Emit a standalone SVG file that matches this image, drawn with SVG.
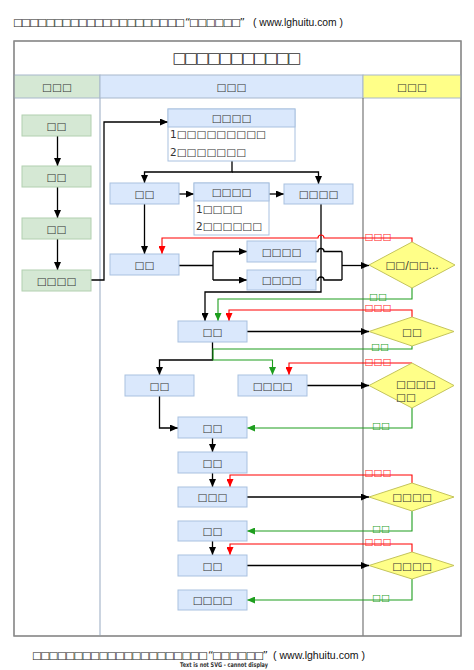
<svg xmlns="http://www.w3.org/2000/svg" width="474" height="670" viewBox="0 0 474 670">
<defs>
<style>
text{font-family:"DejaVu Sans","Liberation Sans",sans-serif;fill:#333;}
.t{font-size:10.5px;text-anchor:middle;dominant-baseline:central;}
.tl{font-size:10.5px;dominant-baseline:central;}
.hd{font-size:10.6px;fill:#222;}
.lat{font-family:"Liberation Sans",Arial,sans-serif;font-size:10.5px;fill:#111;}
.node{fill:#dae8fc;stroke:#a9c1e0;stroke-width:1;}
.white{fill:#ffffff;stroke:#a9c1e0;stroke-width:1;}
.gnode{fill:#d5e8d4;stroke:#b2d0b0;stroke-width:1;}
.dia{fill:#ffff88;stroke:#c4c45c;stroke-width:1;}
.k{fill:none;stroke:#000;stroke-width:1.3;}
.kr{fill:none;stroke:#000;stroke-width:1.3;marker-end:url(#ak);}
.rr{fill:none;stroke:#ff0000;stroke-width:1.1;marker-end:url(#ar);}
.gr{fill:none;stroke:#1e9e1e;stroke-width:1.1;marker-end:url(#ag);}
.lr{font-size:9.5px;fill:#ff2020;text-anchor:middle;dominant-baseline:central;}
.lg{font-size:9.5px;fill:#1e9e1e;text-anchor:middle;dominant-baseline:central;}
</style>
<marker id="ak" viewBox="0 0 8 7" refX="8" refY="3.5" markerWidth="8" markerHeight="7" markerUnits="userSpaceOnUse" orient="auto"><path d="M0,0 L8,3.5 L0,7 z" fill="#000"/></marker>
<marker id="ar" viewBox="0 0 8 7" refX="8" refY="3.5" markerWidth="8" markerHeight="7" markerUnits="userSpaceOnUse" orient="auto"><path d="M0,0 L8,3.5 L0,7 z" fill="#ff0000"/></marker>
<marker id="ag" viewBox="0 0 8 7" refX="8" refY="3.5" markerWidth="8" markerHeight="7" markerUnits="userSpaceOnUse" orient="auto"><path d="M0,0 L8,3.5 L0,7 z" fill="#1e9e1e"/></marker>
</defs>
<rect width="474" height="670" fill="#ffffff"/>

<g id="header-text">
<text class="hd" x="13" y="26" textLength="172" lengthAdjust="spacing">□□□□□□□□□□□□□□□□□□□□□</text>
<text class="hd" x="185" y="26" textLength="60" lengthAdjust="spacing">“□□□□□□”</text>
<text class="lat" x="253" y="26" textLength="90" lengthAdjust="spacingAndGlyphs">( www.lghuitu.com )</text>
</g>

<g id="pool">
<rect x="14" y="41" width="447" height="595" fill="#ffffff" stroke="#8a8a8a" stroke-width="1.2"/>
<text x="237" y="63" font-size="15" text-anchor="middle" textLength="129" lengthAdjust="spacing">□□□□□□□□□□□</text>
<rect x="14" y="75" width="86" height="23" fill="#d5e8d4" stroke="#a8b8cc" stroke-width="1"/>
<rect x="100" y="75" width="263" height="23" fill="#dae8fc" stroke="#a8b8cc" stroke-width="1"/>
<rect x="363" y="75" width="98" height="23" fill="#ffff88" stroke="#a8b8cc" stroke-width="1"/>
<text class="t" x="57" y="86.5">□□□</text>
<text class="t" x="231.5" y="86.5">□□□</text>
<text class="t" x="412" y="86.5">□□□</text>
<line x1="100" y1="98" x2="100" y2="636" stroke="#a8b8cc" stroke-width="1.2"/>
<line x1="363" y1="98" x2="363" y2="636" stroke="#777" stroke-width="1.2"/>
<rect x="14" y="41" width="447" height="595" fill="none" stroke="#8a8a8a" stroke-width="1.2"/>
</g>

<g id="connectors">
<path class="kr" d="M57.5,136 V166"/>
<path class="kr" d="M57.5,187 V218"/>
<path class="kr" d="M57.5,239 V270"/>
<path class="kr" d="M91,280 H104 V122 H168"/>
<path class="kr" d="M232,161 V172 H144.5 V183"/>
<path class="kr" d="M232,172 H318.5 V184"/>
<path class="kr" d="M179,194 H194"/>
<path class="kr" d="M269,194 H284"/>
<path class="kr" d="M144.5,204 V254"/>
<path class="k" d="M179,265.5 H213"/>
<path class="k" d="M213,251.5 V280"/>
<path class="kr" d="M213,251.5 H247"/>
<path class="kr" d="M213,280 H247"/>
<path class="kr" d="M321,204 V292 H205 V321"/>
<path class="k" d="M316,251.5 H318 a3,3 0 0 1 6,0 H342"/>
<path class="k" d="M316,280 H318 a3,3 0 0 1 6,0 H342"/>
<path class="k" d="M342,251.5 V280"/>
<path class="kr" d="M342,265.5 H369"/>
<path class="rr" d="M412,242 V238 H324 a3,3 0 0 0 -6,0 H162 V254"/>
<path class="gr" d="M412,288 V299 H218 V321"/>
<path class="rr" d="M412,317 V310 H229 V321"/>
<path class="kr" d="M247,331.5 H369"/>
<path class="kr" d="M212.5,342 V360 H159.5 V375"/>
<path class="gr" d="M412,346 V349 H213 V360 H272.5 V375"/>
<path class="rr" d="M412,363 H289 V375"/>
<path class="kr" d="M307,385.5 H369"/>
<path class="kr" d="M159.5,396 V428 H178"/>
<path class="gr" d="M412,408 V428 H247"/>
<path class="kr" d="M212.5,438 V452"/>
<path class="kr" d="M212.5,473 V487"/>
<path class="rr" d="M412,483 V475 H230 V487"/>
<path class="kr" d="M247,497 H369"/>
<path class="gr" d="M412,511 V531 H247"/>
<path class="kr" d="M212.5,541 V555"/>
<path class="rr" d="M412,552 V544 H230 V555"/>
<path class="kr" d="M247,565.5 H369"/>
<path class="gr" d="M412,579 V600 H247"/>
<text class="lr" x="378" y="236">□□□</text>
<text class="lg" x="378" y="296.5">□□</text>
<text class="lr" x="378" y="307.5">□□□</text>
<text class="lg" x="380" y="346.5">□□</text>
<text class="lr" x="378" y="361">□□□</text>
<text class="lg" x="381" y="425.5">□□</text>
<text class="lr" x="378" y="472.5">□□□</text>
<text class="lg" x="381" y="528.5">□□</text>
<text class="lr" x="378" y="541.5">□□□</text>
<text class="lg" x="381" y="597.5">□□</text>
</g>

<g id="g1"><rect class="gnode" x="22" y="115" width="69" height="21"/><text class="t" x="56.5" y="125.5">□□</text></g>
<g id="g2"><rect class="gnode" x="22" y="166" width="69" height="21"/><text class="t" x="56.5" y="176.5">□□</text></g>
<g id="g3"><rect class="gnode" x="22" y="218" width="69" height="21"/><text class="t" x="56.5" y="228.5">□□</text></g>
<g id="g4"><rect class="gnode" x="22" y="270" width="69" height="21"/><text class="t" x="56.5" y="280.5">□□□□</text></g>

<g id="top-list">
<rect class="white" x="168" y="109" width="127" height="52"/>
<rect class="node" x="168" y="109" width="127" height="18"/>
<text class="t" x="231.5" y="118">□□□□</text>
<text class="tl" x="170" y="133.5">1□□□□□□□□□</text>
<text class="tl" x="170" y="151.5">2□□□□□□□</text>
</g>
<g id="b1"><rect class="node" x="110" y="183" width="69" height="21"/><text class="t" x="144.5" y="193.5">□□</text></g>
<g id="b2-list">
<rect class="white" x="194" y="183" width="75" height="52"/>
<rect class="node" x="194" y="183" width="75" height="18"/>
<text class="t" x="231.5" y="192">□□□□</text>
<text class="tl" x="196" y="208.5">1□□□□</text>
<text class="tl" x="196" y="226">2□□□□□□</text>
</g>
<g id="b3"><rect class="node" x="284" y="184" width="69" height="20"/><text class="t" x="318.5" y="194">□□□□</text></g>
<g id="c1"><rect class="node" x="110" y="254" width="69" height="21"/><text class="t" x="144.5" y="264.5">□□</text></g>
<g id="d1"><rect class="node" x="247" y="241" width="69" height="21"/><text class="t" x="281.5" y="251.5">□□□□</text></g>
<g id="d2"><rect class="node" x="247" y="270" width="69" height="20"/><text class="t" x="281.5" y="280">□□□□</text></g>
<g id="dia1"><polygon class="dia" points="412,242 455,265 412,288 369,265"/><text class="t" x="412" y="265">□□/□□...</text></g>
<g id="e"><rect class="node" x="178" y="321" width="69" height="21"/><text class="t" x="212.5" y="331.5">□□</text></g>
<g id="dia2"><polygon class="dia" points="412,317 454,331.5 412,346 369,331.5"/><text class="t" x="412" y="331.5">□□</text></g>
<g id="f1"><rect class="node" x="125" y="375" width="69" height="21"/><text class="t" x="159.5" y="385.5">□□</text></g>
<g id="f2"><rect class="node" x="238" y="375" width="69" height="21"/><text class="t" x="272.5" y="385.5">□□□□</text></g>
<g id="dia3"><polygon class="dia" points="412,363 454,385.5 412,408 369,385.5"/><text class="tl" x="396" y="384">□□□□</text><text class="tl" x="396" y="397">□□</text></g>
<g id="g"><rect class="node" x="178" y="417" width="69" height="21"/><text class="t" x="212.5" y="427.5">□□</text></g>
<g id="h"><rect class="node" x="178" y="452" width="69" height="21"/><text class="t" x="212.5" y="462.5">□□</text></g>
<g id="i"><rect class="node" x="178" y="487" width="69" height="20"/><text class="t" x="212.5" y="497">□□□</text></g>
<g id="dia4"><polygon class="dia" points="412,483 454,497 412,511 369,497"/><text class="t" x="412" y="497">□□□□</text></g>
<g id="j"><rect class="node" x="178" y="521" width="69" height="20"/><text class="t" x="212.5" y="531">□□</text></g>
<g id="k"><rect class="node" x="178" y="555" width="69" height="21"/><text class="t" x="212.5" y="565.5">□□</text></g>
<g id="dia5"><polygon class="dia" points="412,552 454,565.5 412,579 369,565.5"/><text class="t" x="412" y="565.5">□□□□</text></g>
<g id="l"><rect class="node" x="178" y="590" width="69" height="20"/><text class="t" x="212.5" y="600">□□□□</text></g>

<g id="footer-text">
<text class="hd" x="32" y="659" textLength="176" lengthAdjust="spacing">□□□□□□□□□□□□□□□□□□□□□</text>
<text class="hd" x="208" y="659" textLength="60" lengthAdjust="spacing">“□□□□□□”</text>
<text class="lat" x="273" y="659" textLength="92" lengthAdjust="spacingAndGlyphs">( www.lghuitu.com )</text>
<text x="224" y="667" font-family="Liberation Sans,Arial,sans-serif" font-size="6.5" font-weight="bold" text-anchor="middle" fill="#333" textLength="88" lengthAdjust="spacingAndGlyphs">Text is not SVG - cannot display</text>
</g>
</svg>
